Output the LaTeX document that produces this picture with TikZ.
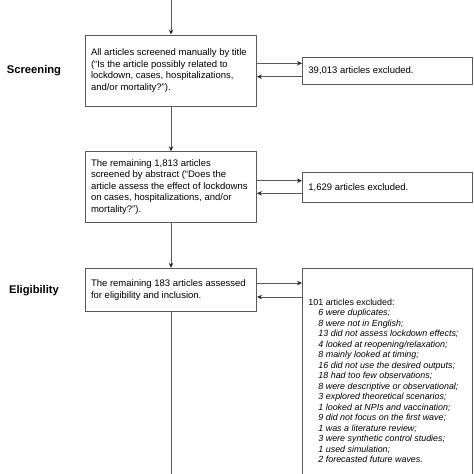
\documentclass[tikz,border=0pt]{standalone}
\usepackage{fontspec}
\setmainfont{Liberation Sans}
\usetikzlibrary{arrows.meta}
\definecolor{linegray}{HTML}{5A5A5A}
\tikzset{
  flowbox/.style={draw=linegray, line width=0.9pt, minimum width=171pt, text width=160pt,
    align=flush left, inner sep=0pt, font=\fontsize{9.5}{11.5}\selectfont},
  exbox/.style={draw=linegray, line width=0.9pt, minimum width=170pt, text width=158pt,
    align=flush left, inner sep=0pt, anchor=north west, font=\fontsize{9.5}{11.5}\selectfont},
  stagelabel/.style={font=\fontsize{11.2}{13}\selectfont\bfseries},
  conn/.style={draw=linegray, line width=0.9pt, -{Stealth[length=5pt,width=4.5pt,color=black!85]}},
  plainconn/.style={draw=linegray, line width=0.9pt}
}
\newcommand{\exitem}[1]{\hspace*{10pt}\textit{#1}}
\begin{document}
\begin{tikzpicture}[x=1pt,y=-1pt]
\useasboundingbox (0,0) rectangle (474,474);
\clip (0,0) rectangle (474,474);

\node[stagelabel] (screening) at (34,71) {Screening};
\node[stagelabel] (eligibility) at (34,291) {Eligibility};

\node[flowbox, minimum height=71pt] (b1) at (171,70.5) {All articles screened manually by title (``Is the article possibly related to lockdown, cases, hospitalizations, and/or mortality?'').};
\node[flowbox, minimum height=70.6pt] (b2) at (171,187) {The remaining 1,813 articles screened by abstract (``Does the article assess the effect of lockdowns on cases, hospitalizations, and/or mortality?'').};
\node[flowbox, minimum height=43.4pt] (b3) at (171,290) {The remaining 183 articles assessed for eligibility and inclusion.};

\node[exbox, minimum height=27.6pt] (e1) at (302,56.7) {39,013 articles excluded.};
\node[exbox, minimum height=29.4pt] (e2) at (302,172.3) {1,629 articles excluded.};
\node[exbox, minimum height=224pt, font=\fontsize{8.9}{10.5}\selectfont] (e3) at (302,268.3) {101 articles excluded:\\
\exitem{6 were duplicates;}\\
\exitem{8 were not in English;}\\
\exitem{13 did not assess lockdown effects;}\\
\exitem{4 looked at reopening/relaxation;}\\
\exitem{8 mainly looked at timing;}\\
\exitem{16 did not use the desired outputs;}\\
\exitem{18 had too few observations;}\\
\exitem{8 were descriptive or observational;}\\
\exitem{3 explored theoretical scenarios;}\\
\exitem{1 looked at NPIs and vaccination;}\\
\exitem{9 did not focus on the first wave;}\\
\exitem{1 was a literature review;}\\
\exitem{3 were synthetic control studies;}\\
\exitem{1 used simulation;}\\
\exitem{2 forecasted future waves.}};

\coordinate (top) at (171,-2);
\coordinate (bottom) at (171,480);

\draw[conn] (top) -- (b1.north);
\draw[conn] (b1.south) -- (b2.north);
\draw[conn] (b2.south) -- (b3.north);
\draw[plainconn] (b3.south) -- (bottom);

\draw[conn] ([yshift=7.2pt]b1.east) -- ([yshift=7.2pt]b1.east -| e1.west);
\draw[conn] ([yshift=-6.2pt]b1.east -| e1.west) -- ([yshift=-6.2pt]b1.east);
\draw[conn] ([yshift=6.3pt]b2.east) -- ([yshift=6.3pt]b2.east -| e2.west);
\draw[conn] ([yshift=-6.3pt]b2.east -| e2.west) -- ([yshift=-6.3pt]b2.east);
\draw[conn] ([yshift=7pt]b3.east) -- ([yshift=7pt]b3.east -| e3.west);
\draw[conn] ([yshift=-7pt]b3.east -| e3.west) -- ([yshift=-7pt]b3.east);
\end{tikzpicture}
\end{document}
